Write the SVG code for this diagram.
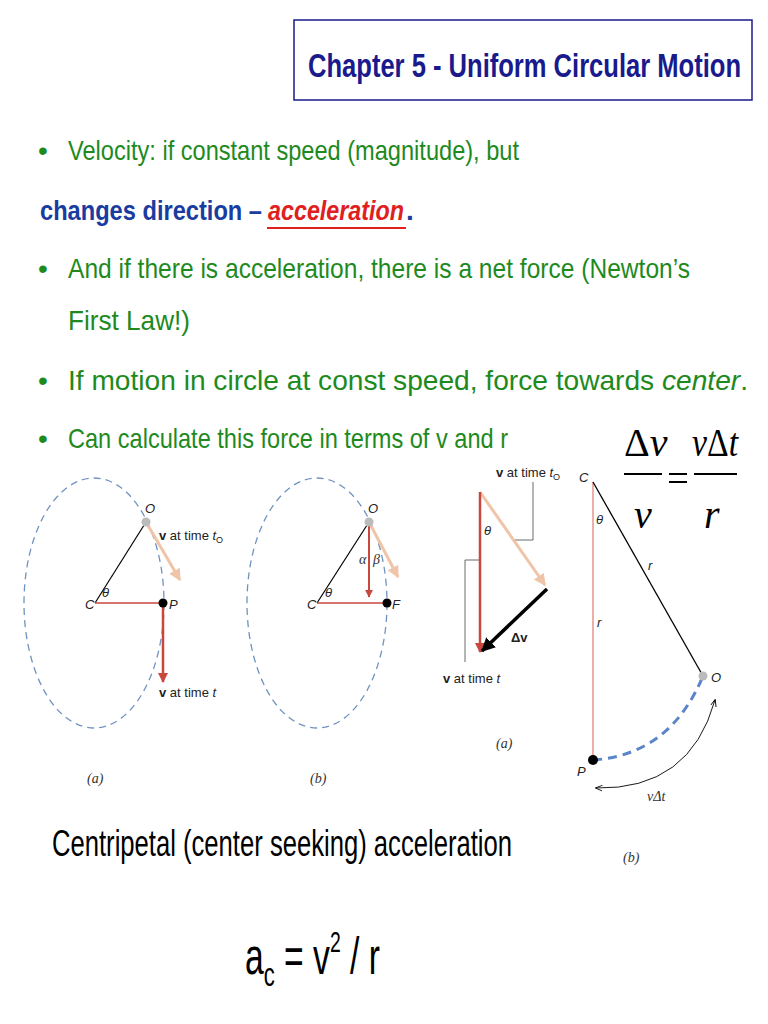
<svg xmlns="http://www.w3.org/2000/svg" width="768" height="1024" viewBox="0 0 768 1024">
<defs>
<style>
.s{font-family:"Liberation Sans",Arial,sans-serif}
.g{fill:#1e8a1e;font-size:28px}
.b{fill:#1a3ca0;font-size:28px;font-weight:bold}
.t{font-family:"Liberation Serif",serif;font-style:italic}
.lbl{font-family:"Liberation Sans",Arial,sans-serif;font-size:13px;fill:#222}
.cap{font-family:"Liberation Serif",serif;font-style:italic;font-size:14px;fill:#333}
.dash{fill:none;stroke:#6f93c0;stroke-width:1.3;stroke-dasharray:7 5}
</style>
<marker id="ar" viewBox="0 0 10 10" refX="9" refY="5" markerWidth="4" markerHeight="4" orient="auto"><path d="M0,0L10,5L0,10z" fill="#c9473d"/></marker>
<marker id="ap" viewBox="0 0 10 10" refX="9" refY="5" markerWidth="4" markerHeight="4" orient="auto"><path d="M0,0L10,5L0,10z" fill="#f0c4a8"/></marker>
<marker id="ak" viewBox="0 0 10 10" refX="9" refY="5" markerWidth="4" markerHeight="4" orient="auto"><path d="M0,0L10,5L0,10z" fill="#000"/></marker>
<marker id="at" viewBox="0 0 10 10" refX="9" refY="5" markerWidth="8" markerHeight="8" orient="auto-start-reverse"><path d="M0,1L10,5L0,9" fill="none" stroke="#000" stroke-width="1.2"/></marker>
</defs>
<rect width="768" height="1024" fill="#fff"/>
<rect x="294" y="20" width="458" height="80" fill="#fff" stroke="#1a1a8c" stroke-width="1.5"/>
<text class="s" x="308" y="77" font-size="34" font-weight="bold" fill="#1a1a8c" textLength="433" lengthAdjust="spacingAndGlyphs">Chapter 5 - Uniform Circular Motion</text>
<text class="s g" x="38" y="160">•</text>
<text class="s g" x="68" y="160" textLength="451" lengthAdjust="spacingAndGlyphs">Velocity: if constant speed (magnitude), but</text>
<text class="s b" x="40" y="220" textLength="222" lengthAdjust="spacingAndGlyphs">changes direction –</text>
<text class="s" x="268" y="220" font-size="28" font-weight="bold" font-style="italic" fill="#e0201e" textLength="136" lengthAdjust="spacingAndGlyphs">acceleration</text>
<line x1="267" y1="228" x2="406" y2="228" stroke="#e0201e" stroke-width="2"/>
<text class="s b" x="406" y="220" font-weight="normal">.</text>
<text class="s g" x="38" y="278">•</text>
<text class="s g" x="68" y="278" textLength="622" lengthAdjust="spacingAndGlyphs">And if there is acceleration, there is a net force (Newton’s</text>
<text class="s g" x="68" y="330" textLength="122" lengthAdjust="spacingAndGlyphs">First Law!)</text>
<text class="s g" x="38" y="390">•</text>
<text class="s g" x="68" y="390" textLength="680" lengthAdjust="spacingAndGlyphs" font-size="26">If motion in circle at const speed, force towards <tspan font-style="italic">center</tspan>.</text>
<text class="s g" x="38" y="448">•</text>
<text class="s g" x="68" y="448" textLength="440" lengthAdjust="spacingAndGlyphs">Can calculate this force in terms of v and r</text>
<g id="eq" class="t" font-size="40" fill="#000">
<text x="624" y="456" font-style="normal">Δ<tspan font-style="italic">v</tspan></text>
<line x1="624" y1="474" x2="662" y2="474" stroke="#000" stroke-width="2"/>
<text x="634" y="528">v</text>
<line x1="669" y1="474" x2="687" y2="474" stroke="#000" stroke-width="2"/>
<line x1="669" y1="482" x2="687" y2="482" stroke="#000" stroke-width="2"/>
<text x="692" y="456" textLength="46" lengthAdjust="spacingAndGlyphs">v<tspan font-style="normal">Δ</tspan>t</text>
<line x1="694" y1="474" x2="737" y2="474" stroke="#000" stroke-width="2"/>
<text x="704" y="528">r</text>
</g>
<g id="figA">
<ellipse class="dash" cx="94" cy="603" rx="70" ry="125"/>
<line x1="95" y1="603" x2="146" y2="522" stroke="#000" stroke-width="1.2"/>
<line x1="95" y1="603" x2="163" y2="603" stroke="#c9473d" stroke-width="1.3"/>
<line x1="146" y1="522" x2="180" y2="580" stroke="#f0c4a8" stroke-width="3" marker-end="url(#ap)"/>
<line x1="163" y1="603" x2="163" y2="682" stroke="#c9473d" stroke-width="2.5" marker-end="url(#ar)"/>
<circle cx="146" cy="522" r="4.5" fill="#bbb"/>
<circle cx="163" cy="603" r="4.5" fill="#000"/>
<text class="lbl" x="145" y="513" font-style="italic">O</text>
<text class="lbl" x="159" y="540" font-size="12"><tspan font-weight="bold">v</tspan> at time <tspan font-style="italic">t</tspan><tspan font-size="9" dy="3">O</tspan></text>
<text class="lbl" x="102" y="597" font-size="11" font-style="italic">θ</text>
<text class="lbl" x="85" y="609" font-style="italic">C</text>
<text class="lbl" x="169" y="609" font-style="italic">P</text>
<text class="lbl" x="159" y="697" font-size="12"><tspan font-weight="bold">v</tspan> at time <tspan font-style="italic">t</tspan></text>
<text class="cap" x="87" y="783">(a)</text>
</g>
<g id="figB">
<ellipse class="dash" cx="317" cy="603" rx="70" ry="125"/>
<line x1="317" y1="603" x2="369" y2="522" stroke="#000" stroke-width="1.2"/>
<line x1="317" y1="603" x2="387" y2="603" stroke="#c9473d" stroke-width="1.3"/>
<line x1="369" y1="522" x2="398" y2="577" stroke="#f0c4a8" stroke-width="3" marker-end="url(#ap)"/>
<line x1="369" y1="522" x2="369" y2="597" stroke="#c9473d" stroke-width="2" marker-end="url(#ar)"/>
<circle cx="369" cy="522" r="4.5" fill="#bbb"/>
<circle cx="387" cy="603" r="4.5" fill="#000"/>
<text class="lbl" x="368" y="513" font-style="italic">O</text>
<text class="cap" x="359" y="564" font-size="12">α</text>
<text class="cap" x="373" y="564" font-size="12">β</text>
<text class="lbl" x="325" y="597" font-size="11" font-style="italic">θ</text>
<text class="lbl" x="307" y="609" font-style="italic">C</text>
<text class="lbl" x="392" y="609" font-style="italic">F</text>
<text class="cap" x="310" y="783">(b)</text>
</g>
<g id="figC">
<polyline points="533,482 533,540 513,540" fill="none" stroke="#444" stroke-width="0.8"/>
<polyline points="480,560 465,560 465,662" fill="none" stroke="#444" stroke-width="0.8"/>
<line x1="480" y1="492" x2="545" y2="585" stroke="#f0c4a8" stroke-width="3" marker-end="url(#ap)"/>
<line x1="480" y1="492" x2="480" y2="652" stroke="#c9473d" stroke-width="2.5" marker-end="url(#ar)"/>
<line x1="547" y1="589" x2="482" y2="651" stroke="#000" stroke-width="3.5" marker-end="url(#ak)"/>
<text class="lbl" x="496" y="477" font-size="12"><tspan font-weight="bold">v</tspan> at time <tspan font-style="italic">t</tspan><tspan font-size="9" dy="3">O</tspan></text>
<text class="lbl" x="484" y="535" font-size="11" font-style="italic">θ</text>
<text class="lbl" x="511" y="642" font-size="12" font-weight="bold">Δv</text>
<text class="lbl" x="443" y="683" font-size="12"><tspan font-weight="bold">v</tspan> at time <tspan font-style="italic">t</tspan></text>
<text class="cap" x="496" y="748">(a)</text>
</g>
<g id="figD">
<line x1="593" y1="482" x2="593" y2="760" stroke="#e07a70" stroke-width="1.2"/>
<line x1="593" y1="482" x2="703" y2="676" stroke="#000" stroke-width="1.3"/>
<path d="M593,760 Q670,755 703,676" fill="none" stroke="#5b85c8" stroke-width="3" stroke-dasharray="9 6"/>
<path d="M596,788 Q690,790 715,700" fill="none" stroke="#000" stroke-width="0.9" marker-start="url(#at)" marker-end="url(#at)"/>
<circle cx="703" cy="676" r="4.5" fill="#bbb"/>
<circle cx="593" cy="760" r="5" fill="#000"/>
<text class="lbl" x="579" y="482" font-size="14" font-style="italic">C</text>
<text class="lbl" x="596" y="524" font-size="11" font-style="italic">θ</text>
<text class="lbl" x="648" y="570" font-size="12" font-style="italic">r</text>
<text class="lbl" x="597" y="627" font-size="12" font-style="italic">r</text>
<text class="lbl" x="711" y="682" font-size="14" font-style="italic">O</text>
<text class="lbl" x="577" y="776" font-size="14" font-style="italic">P</text>
<text class="cap" x="647" y="801" font-size="13">vΔt</text>
<text class="cap" x="623" y="862">(b)</text>
</g>
<text class="s" x="52" y="856" font-size="36" fill="#000" textLength="460" lengthAdjust="spacingAndGlyphs">Centripetal (center seeking) acceleration</text>
<text class="s" x="245" y="974" font-size="52" fill="#000" textLength="135" lengthAdjust="spacingAndGlyphs">a<tspan font-size="34" dy="12">c</tspan><tspan dy="-12"> = v</tspan><tspan font-size="30" dy="-22">2</tspan><tspan dy="22"> / r</tspan></text>
</svg>
